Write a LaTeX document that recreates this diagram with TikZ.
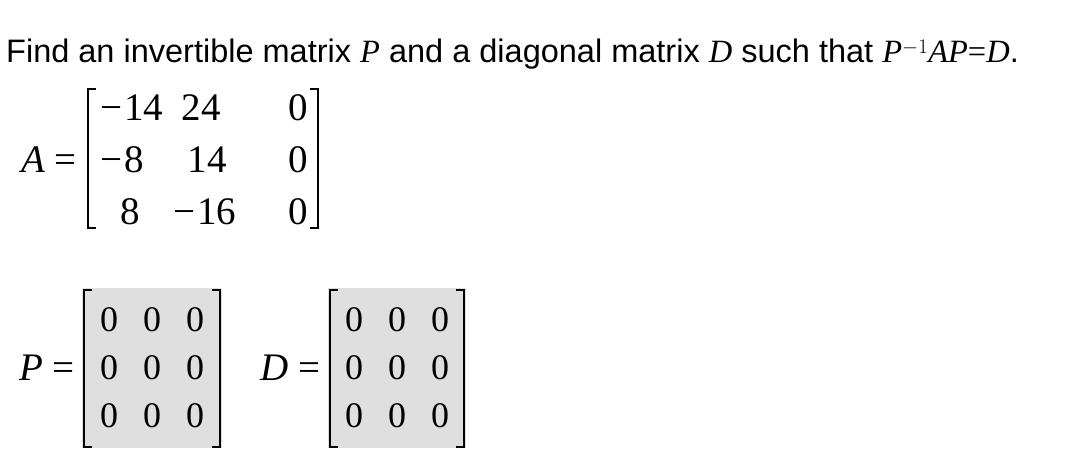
\documentclass[tikz,border=0pt]{standalone}
\usepackage{fontspec}
\setmainfont{Liberation Sans}
\newfontfamily\mserif{Liberation Serif}
\newcommand{\mi}[1]{{\mserif\itshape #1}}
\newcommand{\mmin}{{\mserif −\kern2pt}}
\begin{document}
\begin{tikzpicture}[x=1pt,y=-1pt,
  txt/.style={inner sep=0pt,font=\fontsize{32.5}{36}\selectfont},
  num/.style={inner sep=0pt,font=\mserif\fontsize{39}{42}\selectfont},
  zero/.style={inner sep=0pt,font=\mserif\fontsize{36}{40}\selectfont},
  brk/.style={line width=1.6pt}]
\useasboundingbox (0,0) rectangle (1072,460);
\node[txt,anchor=base west] (title) at (6,63) {Find an invertible matrix \mi{P} and a diagonal matrix \mi{D} such that \mi{P}$^{\mserif -1}$\mi{AP}{\mserif =}\mi{D}.};
% A
\node[num,anchor=east] (Aeq) at (77,160) {\mi{A} = };
\draw[brk] (96,89) -- (88,89) -- (88,228) -- (96,228);
\draw[brk] (310,89) -- (318,89) -- (318,228) -- (310,228);
\node[num,anchor=west] (a11) at (100,108) {\mmin 14};
\node[num] (a12) at (201,108) {24};
\node[num] (a13) at (298,108) {0};
\node[num,anchor=west] (a21) at (100,160) {\mmin 8};
\node[num] (a22) at (207,160) {14};
\node[num] (a23) at (298,160) {0};
\node[num] (a31) at (130,212) {8};
\node[num] (a32) at (205,212) {\mmin 16};
\node[num] (a33) at (298,212) {0};
% P
\node[num,anchor=east] (Peq) at (75,368) {\mi{P} = };
\fill[gray!25] (82,288) rectangle (222,448);
\draw[brk] (92,290) -- (84,290) -- (84,447) -- (92,447);
\draw[brk] (212,290) -- (220,290) -- (220,447) -- (212,447);
\foreach \r/\y in {1/320,2/368,3/416}{
  \foreach \c/\x in {1/109,2/152,3/195}{
    \node[zero] (p\r\c) at (\x,\y) {0};
  }
}
% D
\node[num,anchor=east] (Deq) at (321,368) {\mi{D} = };
\fill[gray!25] (328,288) rectangle (466,448);
\draw[brk] (338,290) -- (330,290) -- (330,447) -- (338,447);
\draw[brk] (456,290) -- (464,290) -- (464,447) -- (456,447);
\foreach \r/\y in {1/320,2/368,3/416}{
  \foreach \c/\x in {1/354,2/397,3/440}{
    \node[zero] (d\r\c) at (\x,\y) {0};
  }
}
\end{tikzpicture}
\end{document}
